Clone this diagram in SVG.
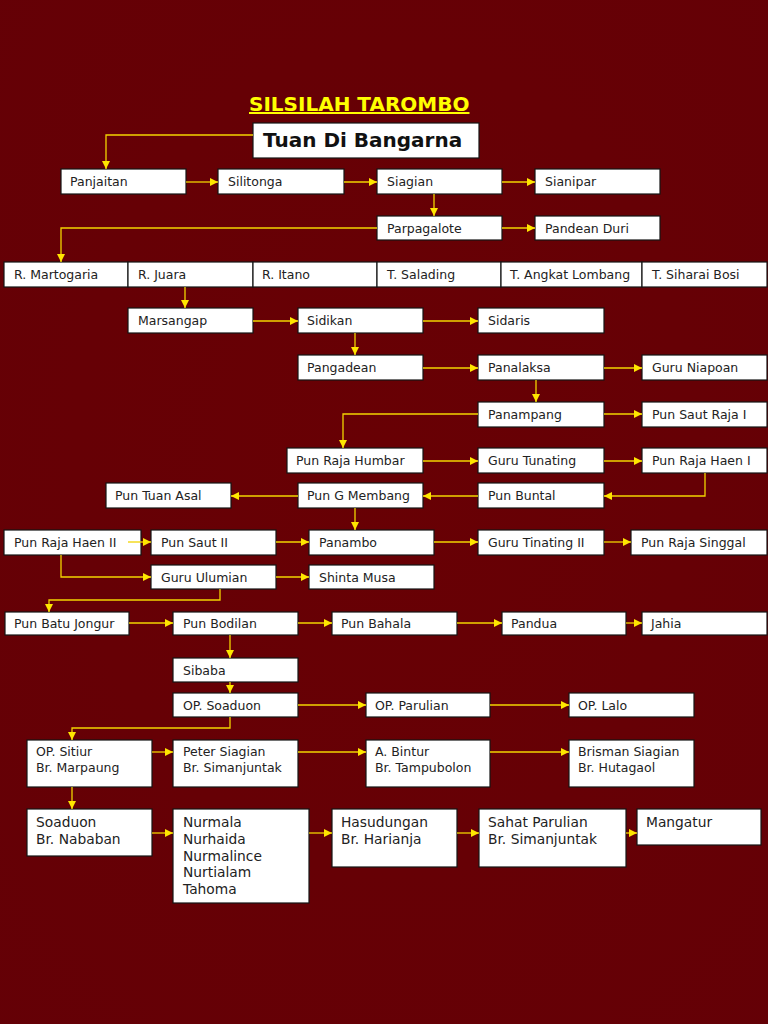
<svg xmlns="http://www.w3.org/2000/svg" width="768" height="1024" viewBox="0 0 768 1024">
<defs>
<marker id="ah" markerUnits="userSpaceOnUse" markerWidth="9" markerHeight="9" refX="8" refY="4" orient="auto">
<path d="M0,0 L8,4 L0,8 z" fill="#ffe600"/>
</marker>
<radialGradient id="bg" cx="0.5" cy="0.45" r="0.8">
<stop offset="0" stop-color="#680004"/>
<stop offset="1" stop-color="#640006"/>
</radialGradient>
</defs>
<style>
.b{fill:#ffffff;stroke:#151515;stroke-width:1.2}
.t{font-family:"DejaVu Sans","Liberation Sans",sans-serif;font-size:12.5px;fill:#222}
.L{font-family:"DejaVu Sans","Liberation Sans",sans-serif;font-size:13.8px;fill:#222}
.c{fill:none;stroke:#f2d400;stroke-width:1.3;marker-end:url(#ah)}
</style>
<rect width="768" height="1024" fill="url(#bg)"/>
<text x="249" y="111" font-family="'DejaVu Sans','Liberation Sans',sans-serif" font-size="20" font-weight="bold" fill="#ffff00" text-decoration="underline">SILSILAH TAROMBO</text>

<g id="n-tuan"><rect class="b" x="253" y="123" width="226" height="35"/><text x="263" y="147" font-family="'DejaVu Sans','Liberation Sans',sans-serif" font-size="20" font-weight="bold" fill="#111">Tuan Di Bangarna</text></g>
<g id="n-panjaitan"><rect class="b" x="61" y="169" width="125" height="25"/><text class="t" x="70" y="186">Panjaitan</text></g>
<g id="n-silitonga"><rect class="b" x="218" y="169" width="126" height="25"/><text class="t" x="228" y="186">Silitonga</text></g>
<g id="n-siagian"><rect class="b" x="377" y="169" width="125" height="25"/><text class="t" x="387" y="186">Siagian</text></g>
<g id="n-sianipar"><rect class="b" x="535" y="169" width="125" height="25"/><text class="t" x="545" y="186">Sianipar</text></g>
<g id="n-parpagalote"><rect class="b" x="377" y="216" width="125" height="24"/><text class="t" x="387" y="232.5">Parpagalote</text></g>
<g id="n-pandeanduri"><rect class="b" x="535" y="216" width="125" height="24"/><text class="t" x="545" y="232.5">Pandean Duri</text></g>
<g id="n-rmartogaria"><rect class="b" x="4" y="262" width="124" height="25"/><text class="t" x="14" y="279">R. Martogaria</text></g>
<g id="n-rjuara"><rect class="b" x="128" y="262" width="125" height="25"/><text class="t" x="138" y="279">R. Juara</text></g>
<g id="n-ritano"><rect class="b" x="253" y="262" width="124" height="25"/><text class="t" x="262" y="279">R. Itano</text></g>
<g id="n-tsalading"><rect class="b" x="377" y="262" width="124" height="25"/><text class="t" x="387" y="279">T. Salading</text></g>
<g id="n-tangkatlombang"><rect class="b" x="501" y="262" width="141" height="25"/><text class="t" x="510" y="279">T. Angkat Lombang</text></g>
<g id="n-tsiharaibosi"><rect class="b" x="642" y="262" width="125" height="25"/><text class="t" x="652" y="279">T. Siharai Bosi</text></g>
<g id="n-marsangap"><rect class="b" x="128" y="308" width="125" height="25"/><text class="t" x="138" y="325">Marsangap</text></g>
<g id="n-sidikan"><rect class="b" x="298" y="308" width="125" height="25"/><text class="t" x="307" y="325">Sidikan</text></g>
<g id="n-sidaris"><rect class="b" x="478" y="308" width="126" height="25"/><text class="t" x="488" y="325">Sidaris</text></g>
<g id="n-pangadean"><rect class="b" x="298" y="355" width="125" height="25"/><text class="t" x="307" y="372">Pangadean</text></g>
<g id="n-panalaksa"><rect class="b" x="478" y="355" width="126" height="25"/><text class="t" x="488" y="372">Panalaksa</text></g>
<g id="n-guruniapoan"><rect class="b" x="642" y="355" width="125" height="25"/><text class="t" x="652" y="372">Guru Niapoan</text></g>
<g id="n-panampang"><rect class="b" x="478" y="402" width="126" height="25"/><text class="t" x="488" y="419">Panampang</text></g>
<g id="n-punsautrajai"><rect class="b" x="642" y="402" width="125" height="25"/><text class="t" x="652" y="419">Pun Saut Raja I</text></g>
<g id="n-punrajahumbar"><rect class="b" x="287" y="448" width="136" height="25"/><text class="t" x="296" y="465">Pun Raja Humbar</text></g>
<g id="n-gurutunating"><rect class="b" x="478" y="448" width="126" height="25"/><text class="t" x="488" y="465">Guru Tunating</text></g>
<g id="n-punrajahaeni"><rect class="b" x="642" y="448" width="125" height="25"/><text class="t" x="652" y="465">Pun Raja Haen I</text></g>
<g id="n-puntuanasal"><rect class="b" x="106" y="483" width="125" height="25"/><text class="t" x="115" y="500">Pun Tuan Asal</text></g>
<g id="n-pungmembang"><rect class="b" x="298" y="483" width="125" height="25"/><text class="t" x="307" y="500">Pun G Membang</text></g>
<g id="n-punbuntal"><rect class="b" x="478" y="483" width="126" height="25"/><text class="t" x="488" y="500">Pun Buntal</text></g>
<g id="n-punrajahaenii"><rect class="b" x="4" y="530" width="137" height="25"/><text class="t" x="14" y="547">Pun Raja Haen II</text></g>
<g id="n-punsautii"><rect class="b" x="151" y="530" width="125" height="25"/><text class="t" x="161" y="547">Pun Saut II</text></g>
<g id="n-panambo"><rect class="b" x="309" y="530" width="125" height="25"/><text class="t" x="319" y="547">Panambo</text></g>
<g id="n-gurutinatingii"><rect class="b" x="478" y="530" width="126" height="25"/><text class="t" x="488" y="547">Guru Tinating II</text></g>
<g id="n-punrajasinggal"><rect class="b" x="631" y="530" width="136" height="25"/><text class="t" x="641" y="547">Pun Raja Singgal</text></g>
<g id="n-guruulumian"><rect class="b" x="151" y="565" width="125" height="24"/><text class="t" x="161" y="581.5">Guru Ulumian</text></g>
<g id="n-shintamusa"><rect class="b" x="309" y="565" width="125" height="24"/><text class="t" x="319" y="581.5">Shinta Musa</text></g>
<g id="n-punbatujongur"><rect class="b" x="5" y="612" width="124" height="23"/><text class="t" x="14" y="628">Pun Batu Jongur</text></g>
<g id="n-punbodilan"><rect class="b" x="173" y="612" width="125" height="23"/><text class="t" x="183" y="628">Pun Bodilan</text></g>
<g id="n-punbahala"><rect class="b" x="332" y="612" width="125" height="23"/><text class="t" x="341" y="628">Pun Bahala</text></g>
<g id="n-pandua"><rect class="b" x="502" y="612" width="124" height="23"/><text class="t" x="511" y="628">Pandua</text></g>
<g id="n-jahia"><rect class="b" x="642" y="612" width="125" height="23"/><text class="t" x="651" y="628">Jahia</text></g>
<g id="n-sibaba"><rect class="b" x="173" y="658" width="125" height="24"/><text class="t" x="183" y="674.5">Sibaba</text></g>
<g id="n-opsoaduon"><rect class="b" x="173" y="693" width="125" height="24"/><text class="t" x="183" y="709.5">OP. Soaduon</text></g>
<g id="n-opparulian"><rect class="b" x="366" y="693" width="124" height="24"/><text class="t" x="375" y="709.5">OP. Parulian</text></g>
<g id="n-oplalo"><rect class="b" x="569" y="693" width="125" height="24"/><text class="t" x="578" y="709.5">OP. Lalo</text></g>
<g id="n-opsitiur"><rect class="b" x="27" y="740" width="125" height="47"/><text class="t" x="36" y="756">OP. Sitiur</text><text class="t" x="36" y="772">Br. Marpaung</text></g>
<g id="n-petersiagian"><rect class="b" x="173" y="740" width="125" height="47"/><text class="t" x="183" y="756">Peter Siagian</text><text class="t" x="183" y="772">Br. Simanjuntak</text></g>
<g id="n-abintur"><rect class="b" x="366" y="740" width="124" height="47"/><text class="t" x="375" y="756">A. Bintur</text><text class="t" x="375" y="772">Br. Tampubolon</text></g>
<g id="n-brismansiagian"><rect class="b" x="569" y="740" width="125" height="47"/><text class="t" x="578" y="756">Brisman Siagian</text><text class="t" x="578" y="772">Br. Hutagaol</text></g>
<g id="n-soaduon"><rect class="b" x="27" y="809" width="125" height="47"/><text class="L" x="36" y="827">Soaduon</text><text class="L" x="36" y="844">Br. Nababan</text></g>
<g id="n-nurmala"><rect class="b" x="173" y="809" width="136" height="94"/><text class="L" x="183" y="827">Nurmala</text><text class="L" x="183" y="844">Nurhaida</text><text class="L" x="183" y="860.5">Nurmalince</text><text class="L" x="183" y="877">Nurtialam</text><text class="L" x="183" y="893.5">Tahoma</text></g>
<g id="n-hasudungan"><rect class="b" x="332" y="809" width="125" height="58"/><text class="L" x="341" y="827">Hasudungan</text><text class="L" x="341" y="844">Br. Harianja</text></g>
<g id="n-sahatparulian"><rect class="b" x="479" y="809" width="147" height="58"/><text class="L" x="488" y="827">Sahat Parulian</text><text class="L" x="488" y="844">Br. Simanjuntak</text></g>
<g id="n-mangatur"><rect class="b" x="637" y="809" width="124" height="36"/><text class="L" x="646" y="827">Mangatur</text></g>

<g id="connectors">
<path class="c" d="M253,135 H106 V169"/>
<path class="c" d="M186,182 H218"/>
<path class="c" d="M344,182 H377"/>
<path class="c" d="M502,182 H535"/>
<path class="c" d="M434,194 V216"/>
<path class="c" d="M502,228 H535"/>
<path class="c" d="M377,228 H61 V262"/>
<path class="c" d="M185,287 V308"/>
<path class="c" d="M253,321 H298"/>
<path class="c" d="M423,321 H478"/>
<path class="c" d="M355,333 V355"/>
<path class="c" d="M423,368 H478"/>
<path class="c" d="M604,368 H642"/>
<path class="c" d="M536,380 V402"/>
<path class="c" d="M604,414 H642"/>
<path class="c" d="M478,414 H343 V448"/>
<path class="c" d="M423,461 H478"/>
<path class="c" d="M604,461 H642"/>
<path class="c" d="M705,473 V496 H604"/>
<path class="c" d="M478,496 H423"/>
<path class="c" d="M298,496 H231"/>
<path class="c" d="M355,508 V530"/>
<path class="c" d="M128,542 H151"/>
<path class="c" d="M276,542 H309"/>
<path class="c" d="M434,542 H478"/>
<path class="c" d="M604,542 H631"/>
<path class="c" d="M61,555 V577 H151"/>
<path class="c" d="M276,577 H309"/>
<path class="c" d="M220,589 V600 H49 V612"/>
<path class="c" d="M129,623 H173"/>
<path class="c" d="M298,623 H332"/>
<path class="c" d="M457,623 H502"/>
<path class="c" d="M626,623 H642"/>
<path class="c" d="M230,635 V658"/>
<path class="c" d="M230,682 V693"/>
<path class="c" d="M298,705 H366"/>
<path class="c" d="M490,705 H569"/>
<path class="c" d="M230,717 V728 H72 V740"/>
<path class="c" d="M152,752 H173"/>
<path class="c" d="M298,752 H366"/>
<path class="c" d="M490,752 H569"/>
<path class="c" d="M72,787 V809"/>
<path class="c" d="M152,833 H173"/>
<path class="c" d="M309,833 H332"/>
<path class="c" d="M457,833 H479"/>
<path class="c" d="M626,833 H637"/>
</g>
</svg>
